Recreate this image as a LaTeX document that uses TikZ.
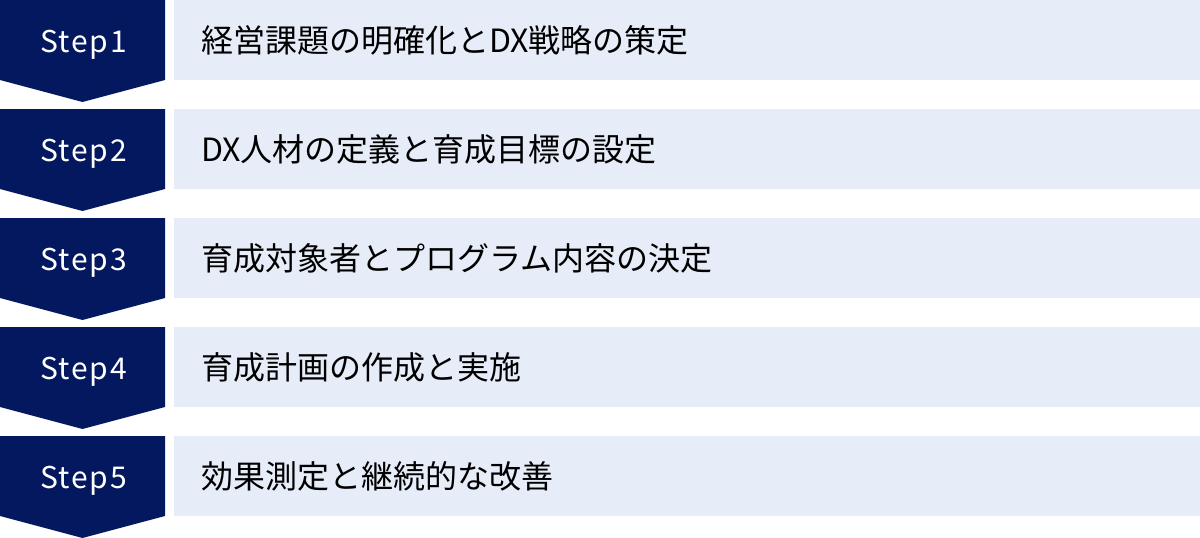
\documentclass[tikz,border=0pt]{standalone}
\usepackage{fontspec}
\newfontfamily\jpfont{Noto Sans CJK JP}
\newfontfamily\stepfont[LetterSpace=6]{Noto Sans CJK JP}
\usepackage{tikz}
\definecolor{stepnavy}{RGB}{4,24,96}
\definecolor{rowblue}{RGB}{230,236,248}
\tikzset{
  steplabel/.style={anchor=base, text=white, inner sep=0pt, font=\stepfont\fontsize{30}{36}\selectfont},
  rowbox/.style={fill=rowblue, minimum width=1026pt, minimum height=80pt, anchor=north west, inner sep=0pt},
  rowtext/.style={anchor=base west, text=black, inner sep=0pt, font=\jpfont\fontsize{32}{38}\selectfont}
}

\begin{document}
\begin{tikzpicture}[x=1pt,y=-1pt]
  \useasboundingbox (0,0) rectangle (1200,538);
  \foreach \n/\txt [count=\i from 0] in {%
      1/経営課題の明確化とDX戦略の策定,
      2/DX人材の定義と育成目標の設定,
      3/育成対象者とプログラム内容の決定,
      4/育成計画の作成と実施,
      5/効果測定と継続的な改善}{
    % chevron for the step number
    \fill[stepnavy] (0,109*\i) -- ++(165,0) -- ++(0,80) -- ++(-82.5,22) -- ++(-82.5,-22) -- cycle;
    \node[steplabel] (step\n) at (83.5,109*\i+52) {Step\n};
    % row with the task
    \node[rowbox] (row\n) at (174,109*\i) {};
    \node[rowtext] (task\n) at (201,109*\i+52) {\txt};
  }
\end{tikzpicture}
\end{document}
